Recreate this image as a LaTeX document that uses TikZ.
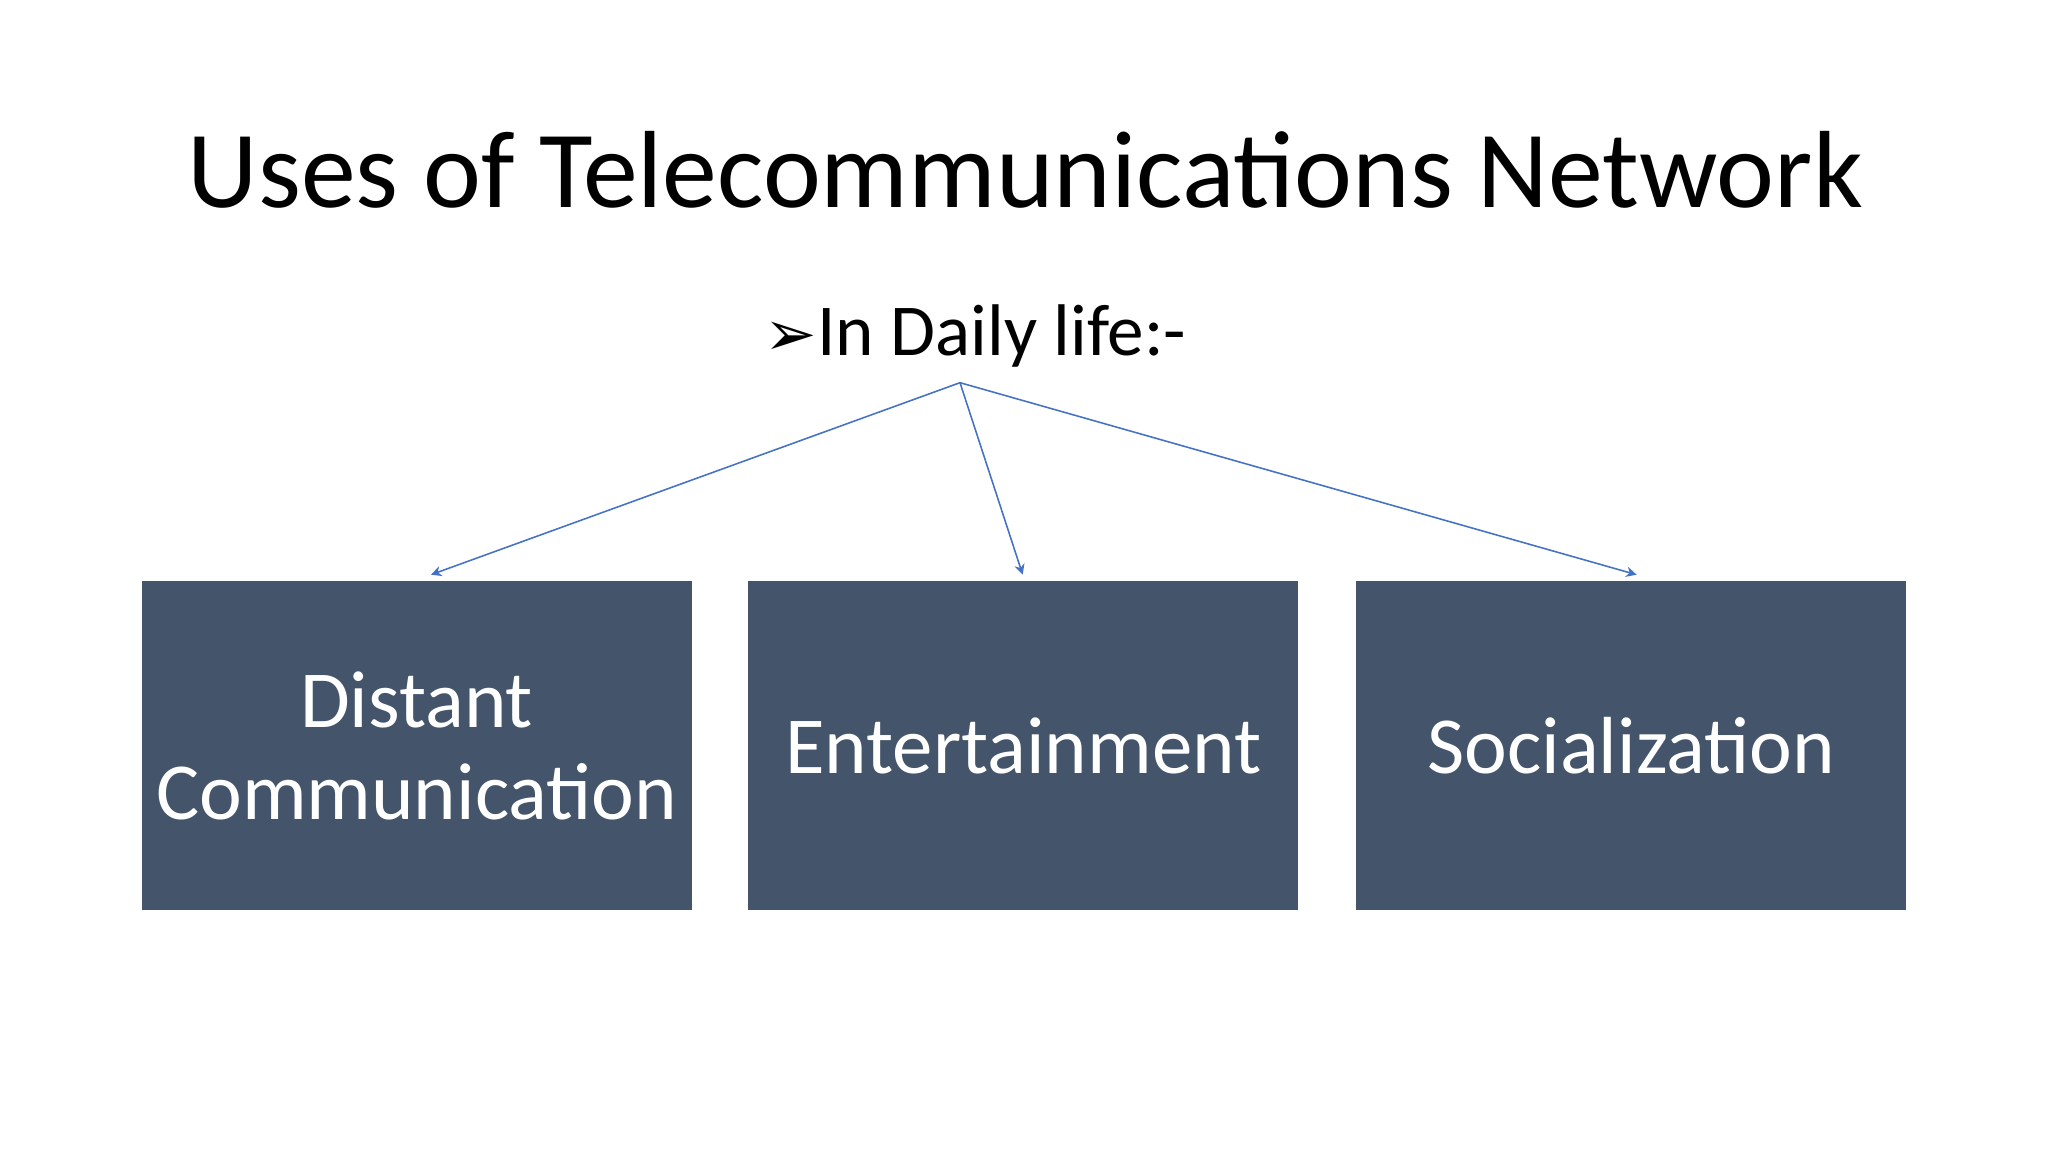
\documentclass[tikz,border=0pt]{standalone}
\usepackage{fontspec}
\usetikzlibrary{arrows.meta}
\setmainfont{Carlito}
\newfontfamily\symfont{DejaVu Sans}
\definecolor{boxc}{HTML}{44546A}
\definecolor{arrc}{HTML}{4472C4}
\begin{document}
\begin{tikzpicture}[x=0.5pt,y=-0.5pt,
  tbox/.style={fill=boxc,draw=none,minimum width=210.5pt,minimum height=126pt,inner sep=0pt,text=white,font=\fontsize{31}{33}\selectfont,align=center},
  conn/.style={draw=arrc,line width=0.6pt,-{Stealth[length=4pt,width=4pt]}}]
\useasboundingbox (0,0) rectangle (1568,882);
\node (title) at (785,130) {\fontsize{42}{46}\selectfont Uses of Telecommunications Network};
\node[anchor=west,inner sep=0pt] (sub) at (585,257) {\fontsize{28}{30}\selectfont{\symfont\fontsize{24}{26}\selectfont ➢}In Daily life:-};
\coordinate (src) at (735,293);
\node[tbox] (b1) at (319,571) {Distant\\[2pt]Communication};
\node[tbox] (b2) at (783.5,571) {Entertainment};
\node[tbox] (b3) at (1249,571) {Socialization};
\draw[conn] (src) -- (330,440);
\draw[conn] (src) -- (783,440);
\draw[conn] (src) -- (1253,440);
\end{tikzpicture}
\end{document}
